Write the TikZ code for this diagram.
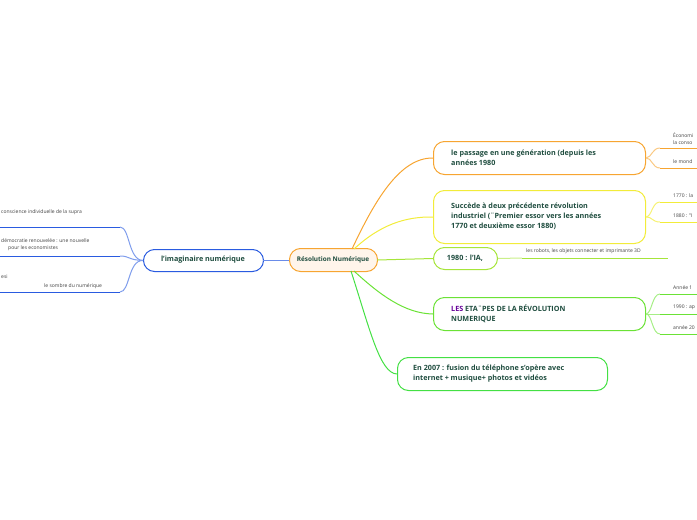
\documentclass[tikz,border=0pt]{standalone}
\usepackage{fontspec}
\setmainfont{Open Sans}
\begin{document}
\begin{tikzpicture}[x=1pt,y=-1pt,
  box/.style={draw=#1,line width=1pt,rounded corners=11pt,fill=white,align=left,anchor=north west,inner sep=0pt,font=\fontsize{7.2}{10}\selectfont\bfseries,text=txt},
  leaf/.style={font=\fontsize{5}{7}\selectfont,text=black!75,anchor=south west,inner sep=1pt,align=left},
  con/.style={draw=#1,line width=1pt}]
\definecolor{txt}{HTML}{1F4D3F}
\definecolor{cOr}{HTML}{F7A531}\definecolor{cYe}{HTML}{F2EC3A}
\definecolor{cLi}{HTML}{A6E53A}\definecolor{cGr}{HTML}{6BE236}
\definecolor{cBg}{HTML}{44E044}\definecolor{cBl}{HTML}{2A5BE0}
\useasboundingbox (0,0) rectangle (697,520);
% central
\node[box=cOr,fill=orange!8,minimum width=88,minimum height=23,align=center] (c) at (289,248) {};
\node[font=\fontsize{6.4}{9}\selectfont\bfseries,text=txt] (ct) at (333,260) {Résolution Numérique};
\node[box=cBl,minimum width=120,minimum height=22] (im) at (143,249) {};
\node[font=\fontsize{7.2}{10}\selectfont\bfseries,text=txt] at (203,260) {l’imaginaire numérique};
\draw[con=cBl!70] (263,260) -- (289,260);
% left leaves
\coordinate (l1) at (120,227);\coordinate (l2) at (120,256);\coordinate (l3) at (120,292);
\draw[con=cBl!60] (im.west) .. controls (128,260) and (130,227) .. (l1);
\draw[con=cBl!60] (im.west) .. controls (128,260) and (130,256) .. (l2);
\draw[con=cBl!60] (im.west) .. controls (128,260) and (130,292) .. (l3);
\draw[con=cBl] (0,227) -- (l1);
\draw[con=cBl] (0,256) -- (l2);
\draw[con=cBl] (0,292) -- (l3);
\node[leaf] (t1) at (0,216) {conscience individuelle de la supra};
\node[leaf] (t2) at (0,252) {démocratie renouvelée : une nouvelle\\ \hspace*{7pt}pour les economistes};
\node[leaf] (t3) at (0,280) {esi};
\node[leaf] (t4) at (43,290) {le sombre du numérique};
% right boxes
\node[box=cOr,minimum width=212,minimum height=33] (b1) at (433,141) {};
\node[anchor=west,font=\fontsize{7.2}{10}\selectfont\bfseries,text=txt,align=left,inner sep=0pt] at (451,157.5) {le passage en une génération (depuis les\\années 1980};
\node[box=cYe,minimum width=212,minimum height=53] (b2) at (433,190) {};
\node[anchor=west,font=\fontsize{7.2}{10}\selectfont\bfseries,text=txt,align=left,inner sep=0pt] at (451,216.5) {Succède à deux précédente révolution\\industriel (¨Premier essor vers les années\\1770 et deuxième essor 1880)};
\node[box=cLi,minimum width=64,minimum height=22] (b3) at (433,247) {};
\node[font=\fontsize{7.2}{10}\selectfont\bfseries,text=txt] at (465,258) {1980 : l'IA,};
\node[box=cGr,minimum width=212,minimum height=33] (b4) at (433,297) {};
\node[anchor=west,font=\fontsize{7.2}{10}\selectfont\bfseries,text=txt,align=left,inner sep=0pt] at (451,313.5) {\textcolor{violet!80!blue}{LES} ETA¨PES DE LA RÉVOLUTION\\NUMERIQUE};
\node[box=cBg,minimum width=210,minimum height=33] (b5) at (397,357) {};
\node[anchor=west,font=\fontsize{7.2}{10}\selectfont\bfseries,text=txt,align=left,inner sep=0pt] at (413,373.5) {En 2007 : fusion du téléphone s'opère avec\\internet + musique+ photos et vidéos};
% branches
\draw[con=cOr] (352,249) .. controls (375,200) and (400,157.5) .. (b1.west);
\draw[con=cYe] (354,249) .. controls (380,225) and (405,216.5) .. (b2.west);
\draw[con=cLi] (377,260) -- (b3.west);
\draw[con=cGr] (354,271) .. controls (380,295) and (405,313.5) .. (b4.west);
\draw[con=cBg] (351,271) .. controls (370,330) and (380,373.5) .. (b5.west);
% right leaves
\coordinate (r1) at (660,148);\coordinate (r2) at (660,168);
\draw[con=cOr!60] (b1.east) .. controls (652,157.5) and (652,148) .. (r1);
\draw[con=cOr!60] (b1.east) .. controls (652,157.5) and (652,168) .. (r2);
\draw[con=cOr] (r1) -- (697,148);\draw[con=cOr] (r2) -- (697,168);
\node[leaf] at (672,146) {Économi\\la conso};
\node[leaf] at (672,165) {le mond};
\coordinate (r3) at (660,202);\coordinate (r4) at (660,222);
\draw[con=cYe!70] (b2.east) .. controls (652,216.5) and (652,202) .. (r3);
\draw[con=cYe!70] (b2.east) .. controls (652,216.5) and (652,222) .. (r4);
\draw[con=cYe] (r3) -- (697,202);\draw[con=cYe] (r4) -- (697,222);
\node[leaf] at (672,199) {1770 : la};
\node[leaf] at (672,219) {1880 : "I};
\coordinate (r5) at (522,258);
\draw[con=cLi!60] (b3.east) -- (r5);
\draw[con=cLi] (r5) -- (668,258);
\node[leaf] at (525,255) {les robots, les objets connecter et imprimante 3D};
\coordinate (r6) at (660,294);\coordinate (r7) at (660,314);\coordinate (r8) at (660,334);
\draw[con=cGr!60] (b4.east) .. controls (652,313.5) and (652,294) .. (r6);
\draw[con=cGr!60] (b4.east) -- (r7);
\draw[con=cGr!60] (b4.east) .. controls (652,313.5) and (652,334) .. (r8);
\draw[con=cGr] (r6) -- (697,294);\draw[con=cGr] (r7) -- (697,314);\draw[con=cGr] (r8) -- (697,334);
\node[leaf] at (672,291) {Année 1};
\node[leaf] at (672,311) {1990 : ap};
\node[leaf] at (672,331) {année 20};
\end{tikzpicture}
\end{document}
